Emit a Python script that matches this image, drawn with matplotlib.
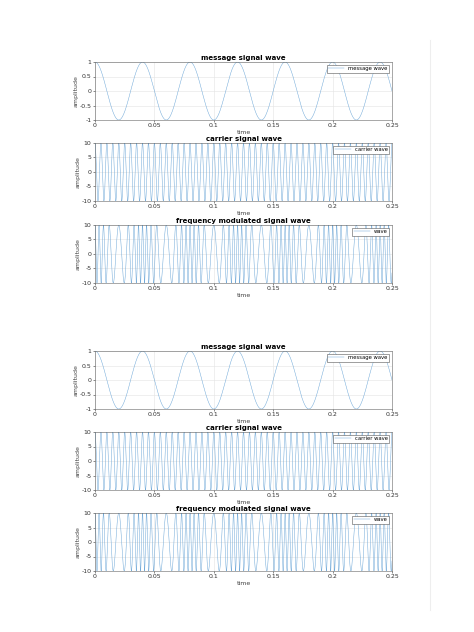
import numpy as np
import matplotlib
matplotlib.use("Agg")
import matplotlib.pyplot as plt

# signal parameters
fm = 25.0        # message frequency, Hz
fc = 200.0       # carrier frequency, Hz
Am = 1.0         # message amplitude
Ac = 10.0        # carrier amplitude
freq_dev = 100.0 # FM frequency deviation, Hz
t_end = 0.25
xticks = [0, 0.05, 0.1, 0.15, 0.2, 0.25]
xticklabels = ["0", "0.05", "0.1", "0.15", "0.2", "0.25"]
titles = ["message signal wave", "carrier signal wave", "frequency modulated signal wave"]
legends = ["message wave", "carrier wave", "wave"]
yticks = [[-1, -0.5, 0, 0.5, 1], [-10, -5, 0, 5, 10], [-10, -5, 0, 5, 10]]
yticklabels = [["-1", "-0.5", "0", "0.5", "1"], ["-10", "-5", "0", "5", "10"], ["-10", "-5", "0", "5", "10"]]

t = np.linspace(0, t_end, 5000)
msg = Am * np.cos(2 * np.pi * fm * t)
car = Ac * np.cos(2 * np.pi * fc * t)
fmw = Ac * np.cos(2 * np.pi * fc * t + (freq_dev / fm) * np.sin(2 * np.pi * fm * t))
signals = [msg, car, fmw]
ylims = [(-1, 1), (-10, 10), (-10, 10)]

W, H = 474, 632
fig = plt.figure(figsize=(W / 100, H / 100), dpi=100)
fig.patch.set_facecolor("white")
fig.add_artist(plt.Line2D([430 / W, 430 / W], [1 - 40 / H, 1 - 610 / H], color="#eeeeee", lw=0.8))

groups = [[62, 143, 225], [351, 432, 513]]
hgt = 58
for g in groups:
    for i, top in enumerate(g):
        ax = fig.add_axes([95 / W, 1 - (top + hgt) / H, 297 / W, hgt / H])
        ax.plot(t, signals[i], color="#6fa8d8", lw=0.35, label=legends[i])
        ax.set_xlim(0, t_end)
        ax.set_ylim(*ylims[i])
        ax.set_xticks(xticks)
        ax.set_xticklabels(xticklabels)
        ax.set_yticks(yticks[i])
        ax.set_yticklabels(yticklabels[i])
        ax.tick_params(labelsize=4.5, length=1.5, width=0.4, pad=1, colors="#333333")
        ax.grid(True, color="#e3e3e3", lw=0.4)
        for s in ax.spines.values():
            s.set_linewidth(0.4)
            s.set_color("#666666")
        ax.set_title(titles[i], fontsize=5, fontweight="bold", pad=1.5)
        ax.set_xlabel("time", fontsize=4.5, labelpad=1, color="#444444")
        ax.set_ylabel("amplitude", fontsize=4.5, labelpad=1, color="#444444")
        leg = ax.legend(loc="upper right", fontsize=3.8, handlelength=3, borderpad=0.3,
                        fancybox=False, framealpha=1)
        leg.get_frame().set_linewidth(0.4)
        leg.get_frame().set_edgecolor("#555555")

fig.savefig("out.png", dpi=100)
